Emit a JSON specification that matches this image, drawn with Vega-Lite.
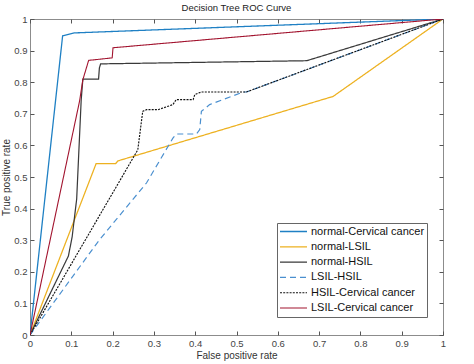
{
  "$schema": "https://vega.github.io/schema/vega-lite/v6.json",
  "width": 413,
  "height": 316,
  "autosize": {"type": "none"},
  "padding": {"left": 30, "top": 19, "right": 31, "bottom": 29},
  "background": "white",
  "title": {"text": "Decision Tree ROC Curve", "fontSize": 9.5, "font": "Liberation Sans", "fontWeight": "normal", "color": "#222222", "offset": 2},
  "config": {
    "font": "Liberation Sans",
    "view": {"stroke": "#8c8c8c", "strokeWidth": 1},
    "axis": {"domain": false, "tickColor": "#555555", "labelColor": "#444444", "titleColor": "#333333", "labelFont": "Liberation Sans", "titleFont": "Liberation Sans", "labelFontSize": 9.5, "titleFontSize": 10, "titleFontWeight": "normal", "grid": false, "ticks": true, "tickSize": 4, "tickWidth": 1, "offset": -4, "zindex": 1}
  },
  "data": {"values": [
    {"series": "normal-Cervical cancer", "o": 0, "fpr": 0, "tpr": 0},
    {"series": "normal-Cervical cancer", "o": 1, "fpr": 0.079, "tpr": 0.947},
    {"series": "normal-Cervical cancer", "o": 2, "fpr": 0.108, "tpr": 0.956},
    {"series": "normal-Cervical cancer", "o": 3, "fpr": 1, "tpr": 1},

    {"series": "normal-LSIL", "o": 0, "fpr": 0, "tpr": 0},
    {"series": "normal-LSIL", "o": 1, "fpr": 0.16, "tpr": 0.542},
    {"series": "normal-LSIL", "o": 2, "fpr": 0.207, "tpr": 0.542},
    {"series": "normal-LSIL", "o": 3, "fpr": 0.213, "tpr": 0.551},
    {"series": "normal-LSIL", "o": 4, "fpr": 0.734, "tpr": 0.755},
    {"series": "normal-LSIL", "o": 5, "fpr": 1, "tpr": 1},

    {"series": "normal-HSIL", "o": 0, "fpr": 0, "tpr": 0},
    {"series": "normal-HSIL", "o": 1, "fpr": 0.093, "tpr": 0.25},
    {"series": "normal-HSIL", "o": 2, "fpr": 0.102, "tpr": 0.31},
    {"series": "normal-HSIL", "o": 3, "fpr": 0.113, "tpr": 0.43},
    {"series": "normal-HSIL", "o": 4, "fpr": 0.124, "tpr": 0.745},
    {"series": "normal-HSIL", "o": 5, "fpr": 0.128, "tpr": 0.81},
    {"series": "normal-HSIL", "o": 6, "fpr": 0.166, "tpr": 0.81},
    {"series": "normal-HSIL", "o": 7, "fpr": 0.168, "tpr": 0.845},
    {"series": "normal-HSIL", "o": 8, "fpr": 0.171, "tpr": 0.858},
    {"series": "normal-HSIL", "o": 9, "fpr": 0.67, "tpr": 0.868},
    {"series": "normal-HSIL", "o": 10, "fpr": 1, "tpr": 1},

    {"series": "LSIL-HSIL", "o": 0, "fpr": 0, "tpr": 0},
    {"series": "LSIL-HSIL", "o": 1, "fpr": 0.168, "tpr": 0.301},
    {"series": "LSIL-HSIL", "o": 2, "fpr": 0.282, "tpr": 0.481},
    {"series": "LSIL-HSIL", "o": 3, "fpr": 0.346, "tpr": 0.623},
    {"series": "LSIL-HSIL", "o": 4, "fpr": 0.354, "tpr": 0.636},
    {"series": "LSIL-HSIL", "o": 5, "fpr": 0.403, "tpr": 0.636},
    {"series": "LSIL-HSIL", "o": 6, "fpr": 0.411, "tpr": 0.65},
    {"series": "LSIL-HSIL", "o": 7, "fpr": 0.415, "tpr": 0.708},
    {"series": "LSIL-HSIL", "o": 8, "fpr": 0.435, "tpr": 0.729},
    {"series": "LSIL-HSIL", "o": 9, "fpr": 0.516, "tpr": 0.769},
    {"series": "LSIL-HSIL", "o": 10, "fpr": 0.524, "tpr": 0.769},
    {"series": "LSIL-HSIL", "o": 11, "fpr": 1, "tpr": 1},

    {"series": "HSIL-Cervical cancer", "o": 0, "fpr": 0, "tpr": 0},
    {"series": "HSIL-Cervical cancer", "o": 1, "fpr": 0.261, "tpr": 0.586},
    {"series": "HSIL-Cervical cancer", "o": 2, "fpr": 0.273, "tpr": 0.708},
    {"series": "HSIL-Cervical cancer", "o": 3, "fpr": 0.282, "tpr": 0.713},
    {"series": "HSIL-Cervical cancer", "o": 4, "fpr": 0.31, "tpr": 0.713},
    {"series": "HSIL-Cervical cancer", "o": 5, "fpr": 0.346, "tpr": 0.729},
    {"series": "HSIL-Cervical cancer", "o": 6, "fpr": 0.354, "tpr": 0.745},
    {"series": "HSIL-Cervical cancer", "o": 7, "fpr": 0.395, "tpr": 0.745},
    {"series": "HSIL-Cervical cancer", "o": 8, "fpr": 0.399, "tpr": 0.761},
    {"series": "HSIL-Cervical cancer", "o": 9, "fpr": 0.415, "tpr": 0.769},
    {"series": "HSIL-Cervical cancer", "o": 10, "fpr": 0.524, "tpr": 0.769},
    {"series": "HSIL-Cervical cancer", "o": 11, "fpr": 1, "tpr": 1},

    {"series": "LSIL-Cervical cancer", "o": 0, "fpr": 0, "tpr": 0},
    {"series": "LSIL-Cervical cancer", "o": 1, "fpr": 0.12, "tpr": 0.74},
    {"series": "LSIL-Cervical cancer", "o": 2, "fpr": 0.128, "tpr": 0.808},
    {"series": "LSIL-Cervical cancer", "o": 3, "fpr": 0.142, "tpr": 0.869},
    {"series": "LSIL-Cervical cancer", "o": 4, "fpr": 0.199, "tpr": 0.877},
    {"series": "LSIL-Cervical cancer", "o": 5, "fpr": 0.201, "tpr": 0.909},
    {"series": "LSIL-Cervical cancer", "o": 6, "fpr": 1, "tpr": 1}
  ]},
  "layer": [
    {
      "mark": {"type": "line", "clip": true},
      "encoding": {
        "x": {"field": "fpr", "type": "quantitative", "scale": {"domain": [0, 1], "nice": false, "zero": false}, "axis": {"title": "False positive rate", "orient": "bottom", "values": [0, 0.1, 0.2, 0.3, 0.4, 0.5, 0.6, 0.7, 0.8, 0.9, 1], "format": ".1~f", "labelPadding": 3, "titlePadding": 3, "labelFlush": false}},
        "y": {"field": "tpr", "type": "quantitative", "scale": {"domain": [0, 1], "nice": false, "zero": false}, "axis": {"title": "True positive rate", "orient": "left", "values": [0, 0.1, 0.2, 0.3, 0.4, 0.5, 0.6, 0.7, 0.8, 0.9, 1], "format": ".1~f", "labelPadding": 3, "titlePadding": 2, "labelFlush": false}},
        "order": {"field": "o", "type": "quantitative"},
        "color": {"field": "series", "type": "nominal", "title": null,
          "scale": {"domain": ["normal-Cervical cancer", "normal-LSIL", "normal-HSIL", "LSIL-HSIL", "HSIL-Cervical cancer", "LSIL-Cervical cancer"],
                    "range": ["#1f80c4", "#EDB120", "#3a3a3a", "#4a8fcf", "#111111", "#A2142F"]},
          "legend": {"orient": "none", "legendX": 247, "legendY": 204, "symbolType": "stroke", "symbolSize": 729, "clipHeight": 13, "labelFontSize": 11, "labelColor": "#111111", "labelFont": "Liberation Sans", "fillColor": "white", "strokeColor": "#666666", "padding": 2, "rowPadding": 2.3, "labelOffset": 3, "symbolStrokeWidth": 1.3}},
        "strokeDash": {"field": "series", "type": "nominal", "title": null,
          "scale": {"domain": ["normal-Cervical cancer", "normal-LSIL", "normal-HSIL", "LSIL-HSIL", "HSIL-Cervical cancer", "LSIL-Cervical cancer"],
                    "range": [[1, 0], [1, 0], [1, 0], [6, 4], [2, 1.2], [1, 0]]}},
        "strokeWidth": {"field": "series", "type": "ordinal", "title": null,
          "scale": {"domain": ["normal-Cervical cancer", "normal-LSIL", "normal-HSIL", "LSIL-HSIL", "HSIL-Cervical cancer", "LSIL-Cervical cancer"],
                    "range": [1.3, 1.1, 1.1, 1.2, 2.6, 1.3]}}
      }
    },
    {
      "mark": {"type": "point", "opacity": 0},
      "encoding": {
        "x": {"field": "fpr", "type": "quantitative", "axis": {"orient": "top", "labels": false, "title": null, "values": [0, 0.1, 0.2, 0.3, 0.4, 0.5, 0.6, 0.7, 0.8, 0.9, 1]}},
        "y": {"field": "tpr", "type": "quantitative", "axis": {"orient": "right", "labels": false, "title": null, "values": [0, 0.1, 0.2, 0.3, 0.4, 0.5, 0.6, 0.7, 0.8, 0.9, 1]}}
      }
    }
  ],
  "resolve": {"axis": {"x": "independent", "y": "independent"}}
}
